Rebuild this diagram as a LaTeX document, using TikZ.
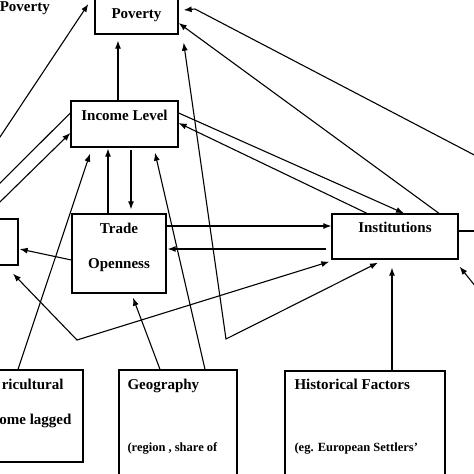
\documentclass[tikz,border=0pt]{standalone}
\usepackage{fontspec}
\setmainfont{Liberation Serif}
\usetikzlibrary{arrows.meta}

\tikzset{
  box/.style={draw, line width=1.3pt, inner sep=0pt},
  txt/.style={font=\fontsize{15}{18}\selectfont\bfseries, inner sep=0pt, anchor=base},
  small/.style={font=\fontsize{12.5}{15}\selectfont\bfseries, inner sep=0pt, anchor=base west},
  arr/.style={-{Latex[length=8pt,width=6pt]}, line width=1.1pt},
  dbl/.style={{Latex[length=8pt,width=6pt]}-{Latex[length=8pt,width=6pt]}, line width=1.1pt},
}

\begin{document}
\begin{tikzpicture}[x=1pt,y=-1pt]
\useasboundingbox (0,0) rectangle (474,474);

\node[box, minimum width=83pt, minimum height=44pt] (pov) at (136.5,12) {};
\node[box, minimum width=107pt, minimum height=46pt] (inc) at (124.5,124) {};
\node[box, minimum width=94pt, minimum height=79pt] (trade) at (119,253.5) {};
\node[box, minimum width=126pt, minimum height=45pt] (inst) at (395,236.5) {};
\node[box, minimum width=58pt, minimum height=46pt] (lhs) at (-11,242) {};
\node[box, minimum width=143pt, minimum height=92pt] (agri) at (11.5,416) {};
\node[box, minimum width=118pt, minimum height=130pt] (geo) at (178,435) {};
\node[box, minimum width=160pt, minimum height=129pt] (hist) at (365,435.5) {};

\node[txt] (povT) at ([yshift=-29pt]pov.north) {Poverty};
\node[txt] (incT) at ([yshift=-20pt]inc.north) {Income Level};
\node[txt] (tradeT) at ([yshift=-20pt]trade.north) {Trade};
\node[txt] (openT) at ([yshift=-55pt]trade.north) {Openness};
\node[txt] (instT) at ([yshift=-19pt]inst.north) {Institutions};
\node[txt, anchor=base east] (agriT) at ([xshift=-20pt,yshift=-20pt]agri.north east) {ricultural};
\node[txt, anchor=base east] (agriT2) at ([xshift=-12pt,yshift=-55pt]agri.north east) {ome lagged};
\node[txt, anchor=base west] (geoT) at ([xshift=9pt,yshift=-20pt]geo.north west) {Geography};
\node[small] (geoT2) at ([xshift=9pt,yshift=-82pt]geo.north west) {(region , share of};
\node[txt, anchor=base west] (histT) at ([xshift=10pt,yshift=-19pt]hist.north west) {Historical Factors};
\node[small] (histT2) at ([xshift=10pt,yshift=-81pt]hist.north west) {(eg. European Settlers'};
\node[txt, anchor=base east] (povL) at (50,11.5) {Poverty};

% ends off the page
\coordinate (inL) at (-5,144.5);
\coordinate (outL) at (-10,193);
\coordinate (inL2) at (-10,211.7);
\coordinate (inR) at (480,292);
\coordinate (inR2) at (480,158);
\coordinate (outR) at (495,231);
\coordinate (bend) at (195,9);
\coordinate (k1) at (77,340);
\coordinate (k2) at (226,339);

\draw[arr] ([xshift=-6.5pt]inc.north) -- ([xshift=-18.5pt,yshift=-6pt]pov.south);
\draw[arr] (inL) -- ([xshift=-6pt,yshift=8pt]pov.west);
\draw[arr] ([yshift=11pt]inc.west) -- (outL);
\draw[arr] (inL2) -- ([yshift=-9pt]inc.west);
\draw[arr] ([xshift=6.5pt]agri.north) -- ([xshift=-34.5pt,yshift=-6pt]inc.south);
\draw[arr] ([xshift=-11pt]trade.north) -- ([xshift=-16.5pt,yshift=-1pt]inc.south);
\draw[arr] ([xshift=6.5pt,yshift=-2pt]inc.south) -- ([xshift=12pt,yshift=4pt]trade.north);
\draw[arr] ([xshift=27pt]geo.north) -- ([xshift=30.5pt,yshift=-5pt]inc.south);
\draw[arr] ([xshift=-18pt]geo.north) -- ([xshift=14pt,yshift=-4pt]trade.south);
\draw[arr] ([yshift=27.5pt]trade.east) -- ([yshift=10.5pt]inst.west);
\draw[arr] ([xshift=-5pt,yshift=-12.5pt]inst.west) -- ([xshift=1pt,yshift=4.5pt]trade.east);
\draw[arr] ([yshift=-6.5pt]trade.west) -- ([xshift=1pt,yshift=-7pt]lhs.east);
\draw[dbl] ([xshift=24pt,yshift=-8pt]lhs.south) -- (k1) -- ([xshift=-2pt,yshift=-2pt]inst.south west);
\draw[dbl] ([xshift=5pt,yshift=-8pt]pov.south east) -- (k2) -- ([xshift=-17pt,yshift=-3pt]inst.south);
\draw[arr] ([xshift=27pt]hist.north) -- ([xshift=-3pt,yshift=-8pt]inst.south);
\draw[arr] (inR) -- ([xshift=1pt,yshift=-7pt]inst.south east);
\draw[arr] ([yshift=11pt]inc.east) -- ([xshift=9pt]inst.north);
\draw[arr] ([xshift=-28pt]inst.north) -- ([yshift=1pt]inc.east);
\draw[arr] ([xshift=44pt]inst.north) -- ([yshift=-11pt]pov.east);
\draw[arr] (inR2) -- (bend) -- ([xshift=5pt,yshift=2pt]pov.east);
\draw[arr] ([yshift=5.5pt]inst.east) -- (outR);
\end{tikzpicture}
\end{document}
